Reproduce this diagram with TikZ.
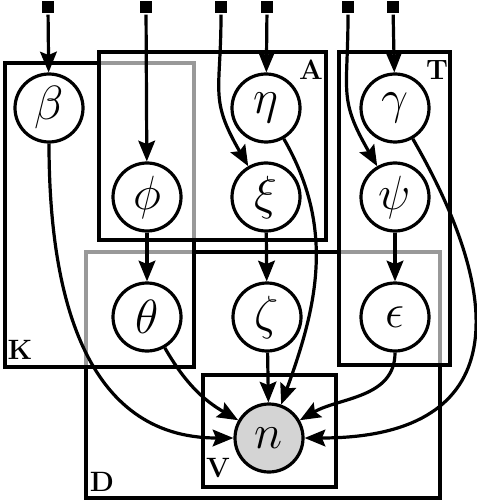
\RequirePackage{fix-cm}
\documentclass[tikz,border=0pt]{standalone}
\usetikzlibrary{arrows.meta}
\begin{document}
\begin{tikzpicture}[x=0.75pt,y=-0.75pt,line width=2.4pt,>={Stealth[length=15.5pt,width=12.5pt,inset=2.5pt]},
	var/.style={draw,circle,fill=white,minimum size=51pt,inner sep=0pt,font=\fontsize{36}{40}\selectfont},
	obs/.style={var,fill=black!17},
	hyp/.style={fill=black,minimum size=9pt,inner sep=0pt},
	plate/.style={draw,fill=white,fill opacity=0.6},
	lab/.style={font=\fontsize{21}{24}\selectfont\bfseries,inner sep=0pt}]
	\useasboundingbox (0,0) rectangle (476,502);
	\draw[plate] (86,252) rectangle (440,498);
	\draw[plate] (203,375) rectangle (336,487);
	\draw[plate] (5,63) rectangle (194,367);
	\draw[plate] (339,52) rectangle (450,365);
	\draw[plate] (99,52) rectangle (326,240);
	\node[lab] (labD) at (102,482) {D};
	\node[lab] (labV) at (218,468) {V};
	\node[lab] (labK) at (20,350) {K};
	\node[lab] (labT) at (437,70) {T};
	\node[lab] (labA) at (311,70) {A};
	\node[var] (beta) at (49,108) {$\beta$};
	\node[var] (phi) at (147,197) {$\phi$};
	\node[var] (eta) at (266,108) {$\eta$};
	\node[var] (xi) at (266,197) {$\xi$};
	\node[var] (gamma) at (395,108) {$\gamma$};
	\node[var] (psi) at (395,197) {$\psi$};
	\node[var] (theta) at (147,317) {$\theta$};
	\node[var] (zeta) at (267,317) {$\zeta$};
	\node[var] (eps) at (395,317) {$\epsilon$};
	\node[obs] (n) at (269,438) {$n$};
	\foreach \i/\x in {1/48,2/146,3/221,4/267,5/348,6/393}
		\node[hyp] (h\i) at (\x,7) {};
	\draw[->] (h1) -- (beta);
	\draw[->] (h2) -- (phi);
	\draw[->] (h4) -- (eta);
	\draw[->] (h6) -- (gamma);
	\draw[->] (h3) to[out=-90,in=120,looseness=1.3] (xi);
	\draw[->] (h5) to[out=-90,in=120,looseness=1.3] (psi);
	\draw[->] (phi) -- (theta);
	\draw[->] (xi) -- (zeta);
	\draw[->] (psi) -- (eps);
	\draw[->] (beta) to[out=-90,in=180,looseness=1.1] (n);
	\draw[->] (theta) to[out=-60,in=150] (n);
	\draw[->] (zeta) -- (n);
	\draw[->] (eta) to[out=-60,in=70] (n);
	\draw[->] (eps) to[out=-90,in=30] (n);
	\draw[->] (gamma) to[out=-60,in=0,looseness=1.6] (n);
\end{tikzpicture}
\end{document}
